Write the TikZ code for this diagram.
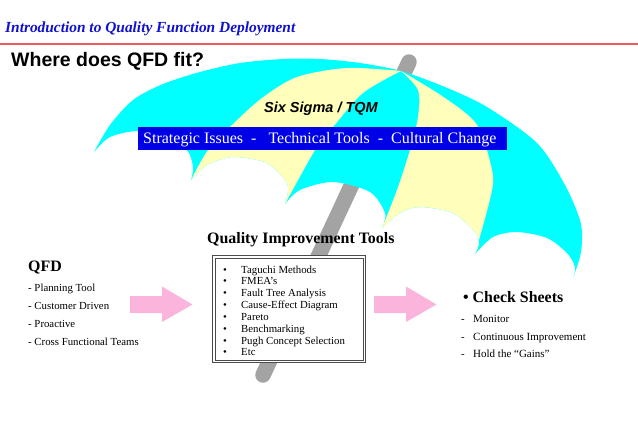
\documentclass[tikz,border=0pt]{standalone}
\usepackage{fontspec}
\setmainfont{Liberation Serif}
\setsansfont{Liberation Sans}
\definecolor{canopycyan}{HTML}{00FFFF}
\definecolor{canopyyellow}{HTML}{FFFFBB}
\definecolor{handlegray}{HTML}{A3A3A3}
\definecolor{arrowpink}{HTML}{FBB5DD}
\definecolor{bannerblue}{HTML}{0000E6}
\definecolor{titleblue}{HTML}{1010D0}
\definecolor{rulered}{HTML}{EE5A5A}
\tikzset{
  txt/.style={anchor=base west,inner sep=0pt,text=black},
  item/.style={txt,font=\fontsize{10.8}{11}\selectfont},
  head/.style={txt,font=\fontsize{15.9}{16}\selectfont\bfseries},
}
\begin{document}
\begin{tikzpicture}[x=1pt,y=-1pt]
\useasboundingbox (0,0) rectangle (638,442);

% header
\node[txt,text=titleblue,font=\fontsize{15.4}{16}\selectfont\bfseries\itshape] (title) at (5,32) {Introduction to Quality Function Deployment};
\fill[rulered] (0,42.5) rectangle (638,44.7);
\node[txt,font=\sffamily\bfseries\fontsize{19.5}{20}\selectfont] (where) at (11,66) {Where does QFD fit?};

% handle
\draw[handlegray,line width=15.5pt,line cap=round] (409,62) -- (263,375);

% canopy
\fill[canopycyan] plot[smooth] coordinates {(94,152) (110,125) (133,100) (163,84) (200,72) (240,63) (283,59) (320,59) (360,63) (401,71) (445,87) (487,107) (537,143) (565,185) (580,220) (582,240) (580,257) (573,278)}
  -- plot[smooth] coordinates {(573,278) (575,267) (567,253) (547,238) (517,232) (493,237) (475,254)}
  -- plot[smooth] coordinates {(475,254) (479,243) (475,232) (453,213) (420,207) (400,213) (382,228)}
  -- plot[smooth] coordinates {(382,228) (385,213) (370,192) (333,182) (300,190) (285,204)}
  -- plot[smooth] coordinates {(285,204) (287,197) (287,183) (267,163) (233,157) (207,165) (191,180)}
  -- plot[smooth] coordinates {(191,180) (193,167) (187,150) (165,135) (137,131) (110,137) (94,152)}
  -- cycle;
\fill[canopyyellow] plot[smooth] coordinates {(191,180) (208,150) (232,125) (262,98) (297,77) (347,68) (401,71)}
  -- plot[smooth] coordinates {(401,71) (363,93) (333,127) (315,150) (285,204)}
  -- plot[smooth] coordinates {(285,204) (287,197) (287,183) (267,163) (233,157) (207,165) (191,180)}
  -- cycle;
\fill[canopyyellow] plot[smooth] coordinates {(382,228) (397,190) (410,150) (418,117) (418,90) (401,71)}
  -- plot[smooth] coordinates {(401,71) (445,98) (477,125) (492,170) (491,195) (475,254)}
  -- plot[smooth] coordinates {(475,254) (479,243) (475,232) (453,213) (420,207) (400,213) (382,228)}
  -- cycle;

% banner
\node[txt,font=\sffamily\bfseries\itshape\fontsize{14.5}{15}\selectfont] (sigma) at (264,112) {Six Sigma / TQM};
\fill[bannerblue] (138,126.5) rectangle (507,150);
\node[txt,text=white,font=\fontsize{16}{16}\selectfont] (banner) at (143,143) {Strategic Issues\ \ -\ \ \ Technical Tools\ \ -\ \ Cultural Change};

% tools box
\node[head] (tools) at (207,243) {Quality Improvement Tools};
\draw[black!70,fill=white,line width=1pt] (212.5,255.5) rectangle (365.5,362.5);
\draw[black!70,line width=0.8pt] (215,258) rectangle (363,360);
\foreach \name [count=\i from 0] in {Taguchi Methods,FMEA's,Fault Tree Analysis,Cause-Effect Diagram,Pareto,Benchmarking,Pugh Concept Selection,Etc}{
  \node[item] (dot\i) at (223,273+11.85*\i) {\textbullet};
  \node[item] (tool\i) at (241,273+11.85*\i) {\name};
}

% left list
\node[head] (qfd) at (28,271) {QFD};
\node[item] (plan) at (28,291) {- Planning Tool};
\node[item] (cust) at (28,309) {- Customer Driven};
\node[item] (pro) at (28,327) {- Proactive};
\node[item] (cross) at (28,345) {- Cross Functional Teams};

% arrows
\foreach \x in {130,374}{
  \fill[arrowpink,shift={(\x,0)}] (0,296) -- (32,296) -- (32,286.5) -- (62.5,304.5) -- (32,322) -- (32,313) -- (0,313) -- cycle;
}

% right list
\node[head] (check) at (463,302) {\textbullet\ Check Sheets};
\foreach \name/\y [count=\i] in {Monitor/322,Continuous Improvement/340,{Hold the ``Gains''}/357}{
  \node[item] (dash\i) at (461,\y) {-};
  \node[item,font=\fontsize{11}{11}\selectfont] (right\i) at (473,\y) {\name};
}
\end{tikzpicture}
\end{document}
